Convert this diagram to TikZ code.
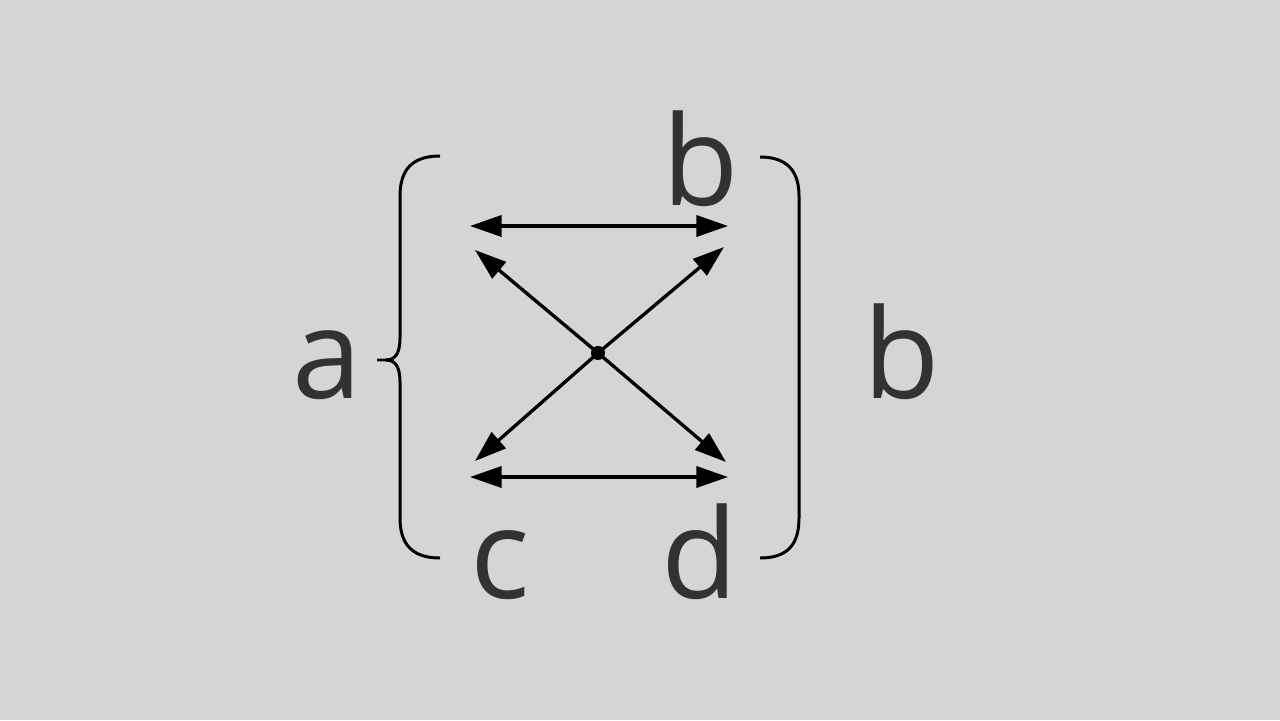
\documentclass[tikz,border=0pt]{standalone}
\usepackage{fontspec}
\setmainfont{Open Sans}
\usetikzlibrary{arrows.meta}
\definecolor{paper}{RGB}{212,214,213}
\definecolor{ink}{RGB}{50,50,50}
\tikzset{
    big-letter/.style = {text=ink, font=\fontsize{71}{78}\selectfont, anchor=base, inner sep=0pt},
    two-way/.style = {line width=1.9pt, {Triangle[length=18pt,width=12pt]}-{Triangle[length=18pt,width=12pt]}},
    one-way/.style = {line width=1.9pt, -{Triangle[length=18pt,width=12pt]}},
    bracket-line/.style = {line width=1.7pt},
}

\begin{document}
\begin{tikzpicture}[x=0.02cm, y=-0.02cm]
\fill[paper] (0,0) rectangle (1280,720);
% letters
\node[big-letter] (a) at (327,398) {a};
\node[big-letter] (bright) at (902,398) {b};
\node[big-letter] (btop) at (701,205) {b};
\node[big-letter] (c) at (500,598) {c};
\node[big-letter] (d) at (700,598) {d};
% arrow ends
\coordinate (topL) at (470,226);
\coordinate (topR) at (728,226);
\coordinate (botL) at (470,477);
\coordinate (botR) at (728,477);
\coordinate (diagTL) at (475,250);
\coordinate (diagTR) at (724,247);
\coordinate (diagBL) at (475,461);
\coordinate (diagBR) at (726,462);
\node[circle, fill=black, inner sep=0pt, minimum size=8pt] (mid) at (598,353) {};
\draw[two-way] (topL) -- (topR);
\draw[two-way] (botL) -- (botR);
\draw[one-way] (mid.center) -- (diagTL);
\draw[one-way] (mid.center) -- (diagTR);
\draw[one-way] (mid.center) -- (diagBL);
\draw[one-way] (mid.center) -- (diagBR);
% brace on the left
\draw[bracket-line] (440,156) .. controls (412,156) and (400,170) .. (400,196) -- (400,338)
    .. controls (400,352) and (396,360) .. (386,360) -- (377,360);
\draw[bracket-line] (386,360) .. controls (396,360) and (400,368) .. (400,382) -- (400,518)
    .. controls (400,544) and (412,558) .. (440,558);
% bracket on the right
\draw[bracket-line] (760,157) .. controls (788,157) and (799,172) .. (799,196) -- (799,518)
    .. controls (799,544) and (788,558) .. (760,558);
\end{tikzpicture}
\end{document}
